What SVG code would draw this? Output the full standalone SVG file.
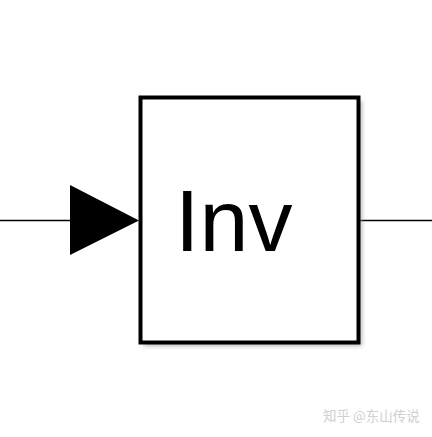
<svg xmlns="http://www.w3.org/2000/svg" width="432" height="437" viewBox="0 0 432 437">
<style>
.wire{stroke:#000;stroke-width:1.3;fill:none}
.label{font-family:"Liberation Sans",Arial,sans-serif;font-size:88px;fill:#000}
.wm{font-family:"Noto Sans CJK SC",sans-serif;font-size:13.5px;fill:#d0d0d0}
</style>
<defs>
<filter id="sh" x="-10%" y="-10%" width="130%" height="130%">
<feGaussianBlur stdDeviation="2"/>
</filter>
</defs>
<rect width="432" height="437" fill="#fff"/>
<g id="connectors">
<line class="wire" x1="0" y1="220.5" x2="72" y2="220.5"/>
<polygon points="70,185 139,220.5 70,255" fill="#000"/>
<line class="wire" x1="360" y1="220.5" x2="432" y2="220.5"/>
</g>
<g id="inv">
<rect x="144" y="101" width="218" height="245" fill="#999" filter="url(#sh)" opacity="0.7"/>
<rect x="140.5" y="97.5" width="218" height="245" fill="#fff" stroke="#000" stroke-width="4"/>
<text class="label" x="175" y="251">Inv</text>
</g>
<text class="wm" x="323" y="421">知乎 @东山传说</text>
</svg>
